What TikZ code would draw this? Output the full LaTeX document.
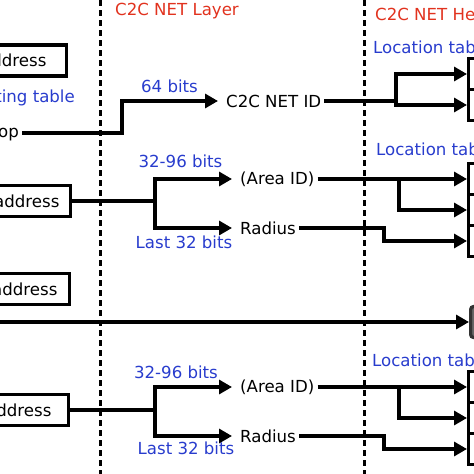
\documentclass[tikz,border=0pt]{standalone}
\usepackage{fontspec}
\setmainfont{DejaVu Sans}
\usetikzlibrary{arrows.meta}
\definecolor{lblue}{RGB}{40,60,205}
\definecolor{lred}{RGB}{225,50,30}
\tikzstyle{wire} = [line width=3.2pt]
\tikzstyle{arr} = [line width=3.2pt,-{Triangle[length=13pt,width=14pt]}]
\tikzstyle{tolabel} = [arr,shorten >=5pt]
\tikzstyle{layer} = [line width=3pt,dash pattern=on 6pt off 4pt]
\tikzstyle{addrbox} = [draw,line width=3.2pt,minimum height=31pt,text width=120pt,align=right,anchor=east]
\tikzstyle{locbox} = [draw,line width=3.2pt,minimum height=31pt,minimum width=40pt,anchor=west]
\tikzstyle{lbl} = [inner sep=3pt]
\tikzstyle{bits} = [lbl,text=lblue]
\tikzstyle{title} = [lbl,text=lred,anchor=west]

\begin{document}
\begin{tikzpicture}[x=1pt,y=-1pt,font=\fontsize{16.6}{19}\selectfont]
	\useasboundingbox (0,0) rectangle (474,474);
	\clip (0,0) rectangle (474,474);
	
	\draw[layer] (100,0) -- (100,474);
	\draw[layer] (364,0) -- (364,474);
	\node[title] (netlayer) at (112,11) {C2C NET Layer};
	\node[title] (netheader) at (372,14) {C2C NET Header};
	
	\node[addrbox,inner xsep=20pt] (a1) at (68,60.5) {address};
	\node[bits,anchor=east] (rtable) at (78,98) {Routing table};
	\node[lbl,anchor=east] (hop) at (22,133) {Next hop};
	\node[bits] (b64) at (169.5,86) {64 bits};
	\node[lbl,anchor=west] (netid) at (223,101) {C2C NET ID};
	\node[bits,anchor=west] (loc1) at (370,47) {Location table};
	\node[locbox] (r1) at (467,74) {};
	\node[locbox] (r2) at (467,105) {};
	\coordinate (s1) at (122,117);
	\coordinate (j1) at (396,101);
	
	\draw[tolabel] (hop.east) -| (s1) |- (netid.west);
	\draw[wire] (netid.east) -- (j1);
	\draw[arr] (j1) |- (r1.west);
	\draw[arr] (j1) |- (r2.west);
	
	\node[addrbox,inner xsep=11pt] (a2) at (72,201) {address};
	\node[bits] (hi2) at (180.5,161) {32-96 bits};
	\node[bits] (lo2) at (184,242) {Last 32 bits};
	\node[lbl,anchor=west] (area2) at (237,179) {(Area ID)};
	\node[lbl,anchor=west] (rad2) at (237,228) {Radius};
	\node[bits,anchor=west] (loc2) at (373,149) {Location table};
	\node[locbox] (r3) at (467,179) {};
	\node[locbox] (r4) at (467,210) {};
	\node[locbox] (r5) at (467,241) {};
	\coordinate (j2) at (155,201);
	\coordinate (k2) at (399,179);
	\coordinate (m2) at (384,228);
	
	\draw[wire] (a2.east) -- (j2);
	\draw[tolabel] (j2) |- (area2.west);
	\draw[tolabel] (j2) |- (rad2.west);
	\draw[arr] (area2.east) -- (r3.west);
	\draw[arr] (k2) |- (r4.west);
	\draw[arr] (rad2.east) -- (m2) |- (r5.west);
	
	\node[addrbox,inner xsep=12pt] (a3) at (71,289) {address};
	\node[locbox,rounded corners=3pt,fill=black!60,draw=black!80] (r6) at (469,322) {};
	\coordinate (src3) at (-5,322);
	
	\draw[arr] (src3) -- (r6.west);
	
	\node[addrbox,inner xsep=17pt] (a4) at (70,410) {address};
	\node[bits] (hi4) at (176,372) {32-96 bits};
	\node[bits] (lo4) at (186,448) {Last 32 bits};
	\node[lbl,anchor=west] (area4) at (237,387) {(Area ID)};
	\node[lbl,anchor=west] (rad4) at (237,436) {Radius};
	\node[bits,anchor=west] (loc4) at (369,360) {Location table};
	\node[locbox] (r7) at (467,387) {};
	\node[locbox] (r8) at (467,418) {};
	\node[locbox] (r9) at (467,449) {};
	\coordinate (j4) at (155,410);
	\coordinate (k4) at (399,387);
	\coordinate (m4) at (384,436);
	
	\draw[wire] (a4.east) -- (j4);
	\draw[tolabel] (j4) |- (area4.west);
	\draw[tolabel] (j4) |- (rad4.west);
	\draw[arr] (area4.east) -- (r7.west);
	\draw[arr] (k4) |- (r8.west);
	\draw[arr] (rad4.east) -- (m4) |- (r9.west);
\end{tikzpicture}
\end{document}
